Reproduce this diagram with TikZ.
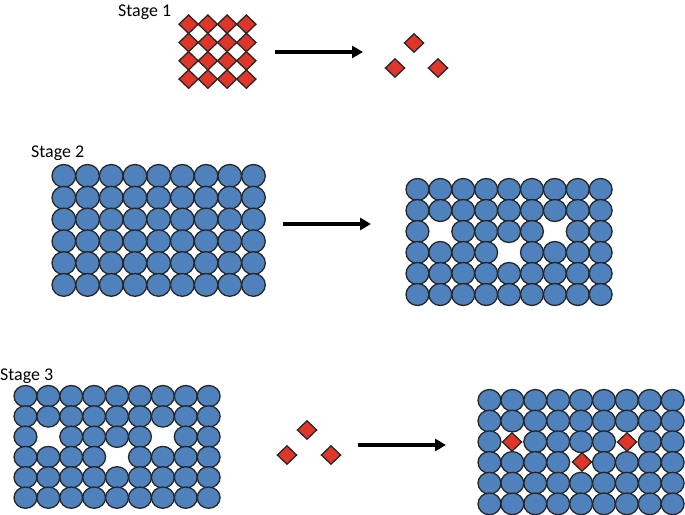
\documentclass[tikz,border=0pt]{standalone}
\usepackage{fontspec}
\setmainfont{Carlito}
\usetikzlibrary{arrows.meta}
\begin{document}
\begin{tikzpicture}[x=1bp,y=-1bp,
  atom/.style={fill={rgb,255:red,79;green,129;blue,189},draw=black!85,line width=1.3bp},
  dia/.style={fill={rgb,255:red,224;green,54;blue,42},draw=black!85,line width=1.3bp},
  arr/.style={-{Triangle[length=11bp,width=12bp]},line width=3.6bp},
  lbl/.style={anchor=west,inner sep=0pt,font=\fontsize{18}{20}\selectfont}]
\useasboundingbox (0,0) rectangle (685,515);
\newcommand{\atomgrid}[5]{%
  \foreach \r in {0,...,5}{\foreach \c in {0,...,8}{%
    \pgfmathtruncatemacro{\hole}{#5*((\r==2)*((\c==1)+(\c==6))+(\r==3)*(\c==4))}%
    \ifnum\hole=0
      \draw[atom] ({#1+#3*(\c+0.5)},{#2+#4*(\r+0.5)}) ellipse[x radius={#3/2},y radius={#4/2+0.5}];
    \fi}}}
\newcommand{\dmd}[4]{\draw[dia] (#1-#3,#2)--(#1,#2-#4)--(#1+#3,#2)--(#1,#2+#4)--cycle;}
% Stage 1
\node[lbl] (s1) at (118,12) {Stage 1};
\foreach \r in {0,...,3}{\foreach \c in {0,...,3}{\dmd{188.6+19.25*\c}{24.2+18.3*\r}{9.6}{9.2}}}
\draw[arr] (275,52) -- (363,52);
\dmd{414}{43}{9.6}{9.2}\dmd{395}{68}{9.6}{9.2}\dmd{438}{68}{9.6}{9.2}
% Stage 2
\node[lbl] (s2) at (31,153) {Stage 2};
\atomgrid{52}{165}{23.7}{21.8}{0}
\draw[arr] (283,224) -- (371,224);
\atomgrid{406}{179}{22.9}{21}{1}
% Stage 3
\node[lbl] (s3) at (0,376) {Stage 3};
\atomgrid{14}{386}{22.9}{20.3}{1}
\dmd{307}{430}{9.6}{9.2}\dmd{287}{455}{9.6}{9.2}\dmd{331}{455}{9.6}{9.2}
\draw[arr] (358,445) -- (446,445);
\atomgrid{478}{390}{22.9}{20.7}{1}
\dmd{512}{442}{9.6}{9.2}\dmd{627}{442}{9.6}{9.2}\dmd{582}{462}{9.6}{9.2}
\end{tikzpicture}
\end{document}
